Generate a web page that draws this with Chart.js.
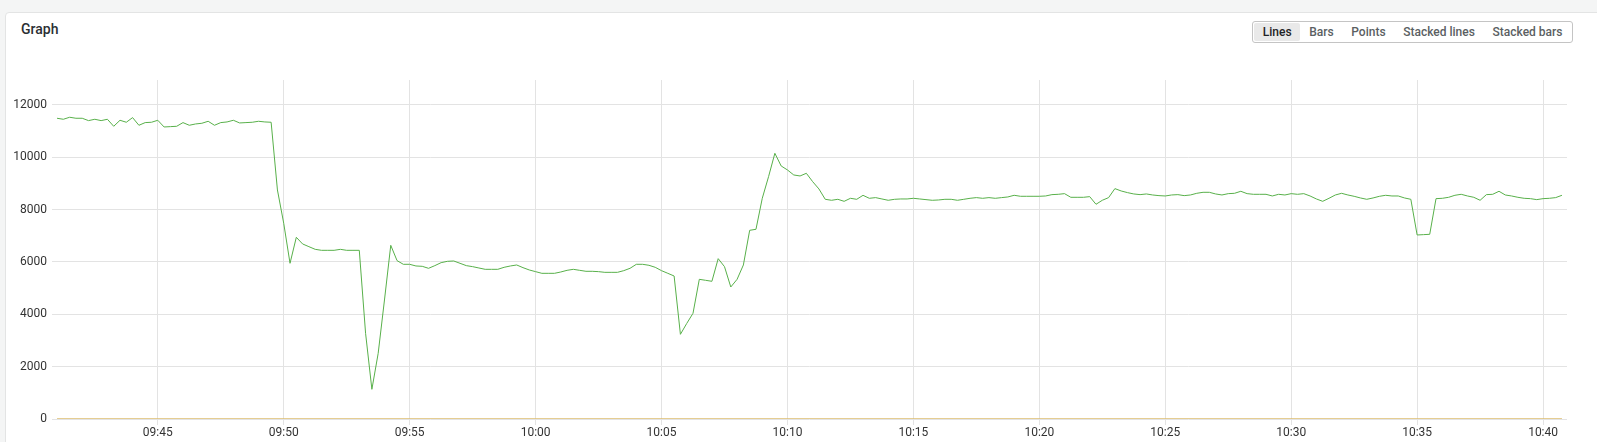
<!DOCTYPE html>
<html>
<head>
<meta charset="utf-8">
<title>Graph</title>
<script src="https://cdn.jsdelivr.net/npm/chart.js@4.4.1/dist/chart.umd.min.js"></script>
<style>
    html, body {
        margin: 0;
        padding: 0;
        width: 1597px;
        height: 442px;
        overflow: hidden;
        background: #f4f5f5;
        font-family: Roboto, "Noto Sans", sans-serif;
    }
    .card {
        position: absolute;
        left: 5px;
        top: 12px;
        width: 1610px;
        height: 460px;
        background: #fff;
        border: 1px solid #e3e4e4;
        border-radius: 4px;
        box-sizing: border-box;
    }
    .title {
        position: absolute;
        left: 21px;
        top: 22px;
        font-size: 14px;
        line-height: 14px;
        font-weight: 500;
        color: #2b2f33;
    }
    .modes {
        position: absolute;
        left: 1252px;
        top: 21px;
        height: 22px;
        box-sizing: border-box;
        border: 1px solid #c4c4c4;
        border-radius: 3px;
        padding: 1px;
        display: flex;
    }
    .modes span {
        display: block;
        height: 18px;
        line-height: 18px;
        padding: 0 8.8px;
        font-size: 12px;
        font-weight: 500;
        color: #5b5f63;
        border-radius: 2px;
    }
    .modes span.active {
        background: #e9e9e9;
        color: #1f2326;
    }
    #wrap {
        position: absolute;
        left: 0;
        top: 0;
        width: 1597px;
        height: 442px;
    }
</style>
</head>
<body>
<div class="card"></div>
<div class="title">Graph</div>
<div class="modes">
    <span class="active">Lines</span>
    <span>Bars</span>
    <span>Points</span>
    <span>Stacked lines</span>
    <span>Stacked bars</span>
</div>
<div id="wrap"><canvas id="graph"></canvas></div>

<script>
// samples every 15 s, starting 09:41:00
const startTime = '09:41:00';
const stepSeconds = 15;

const mainSeries = [
    11493, 11454, 11531, 11493, 11493, 11403, 11454, 11403, 11454, 11186,
    11416, 11340, 11518, 11225, 11327, 11340, 11416, 11160, 11173, 11186,
    11327, 11225, 11275, 11301, 11378, 11225, 11327, 11352, 11416, 11314,
    11327, 11340, 11378, 11352, 11340,
    8752, 7478, 5950, 6944, 6689, 6586, 6484, 6446, 6446, 6446,
    6484, 6446, 6446, 6446, 3274, 1134, 2510, 4548, 6638, 6052,
    5912, 5912, 5848, 5835, 5758, 5861, 5975, 6026,
    6039, 5950, 5861, 5822, 5771, 5720, 5720, 5720, 5797, 5848,
    5886, 5784, 5695, 5631, 5567, 5567, 5567, 5618, 5682, 5720,
    5682, 5644, 5644, 5631, 5605, 5605, 5605, 5669, 5759, 5912,
    5912, 5874, 5797, 5669, 5567, 5465, 3236,
    3650, 4039, 5338, 5300, 5262, 6128, 5822, 5045, 5338, 5886,
    7211, 7249, 8434, 9262, 10154, 9670, 9517, 9326, 9287, 9390,
    9071, 8791, 8396, 8358, 8396, 8319, 8434, 8396, 8548, 8434,
    8460, 8409, 8358, 8396,
    8409, 8409, 8434, 8409, 8383, 8358, 8370, 8396, 8396, 8358,
    8396, 8434, 8460, 8434, 8460, 8434, 8460, 8485, 8549, 8511,
    8511, 8511, 8511, 8523, 8574, 8587, 8612, 8472, 8472, 8472,
    8498, 8205, 8358, 8460, 8804,
    8714, 8651, 8600, 8574, 8600, 8561, 8536, 8523, 8561, 8574,
    8536, 8561, 8625, 8663, 8663, 8600, 8561, 8612, 8625, 8702,
    8612, 8587, 8587, 8587, 8523, 8587, 8561, 8612, 8587, 8612,
    8523, 8409, 8319, 8434,
    8560, 8625, 8561, 8510, 8447, 8396, 8447, 8510, 8549, 8523,
    8523, 8447, 8396, 7032, 7045, 7058, 8421, 8434, 8472, 8549,
    8587, 8523, 8472, 8358, 8574, 8587, 8702, 8561, 8523, 8472,
    8434, 8421, 8383, 8421, 8434, 8460, 8549
];

const zeroSeries = [
    0, 0, 0, 0, 0, 0, 0, 0, 0, 0, 0, 0, 0, 0, 0, 0, 0, 0, 0, 0,
    0, 0, 0, 0, 0, 0, 0, 0, 0, 0, 0, 0, 0, 0, 0, 0, 0, 0, 0, 0,
    0, 0, 0, 0, 0, 0, 0, 0, 0, 0, 0, 0, 0, 0, 0, 0, 0, 0, 0, 0,
    0, 0, 0, 0, 0, 0, 0, 0, 0, 0, 0, 0, 0, 0, 0, 0, 0, 0, 0, 0,
    0, 0, 0, 0, 0, 0, 0, 0, 0, 0, 0, 0, 0, 0, 0, 0, 0, 0, 0, 0,
    0, 0, 0, 0, 0, 0, 0, 0, 0, 0, 0, 0, 0, 0, 0, 0, 0, 0, 0, 0,
    0, 0, 0, 0, 0, 0, 0, 0, 0, 0, 0, 0, 0, 0, 0, 0, 0, 0, 0, 0,
    0, 0, 0, 0, 0, 0, 0, 0, 0, 0, 0, 0, 0, 0, 0, 0, 0, 0, 0, 0,
    0, 0, 0, 0, 0, 0, 0, 0, 0, 0, 0, 0, 0, 0, 0, 0, 0, 0, 0, 0,
    0, 0, 0, 0, 0, 0, 0, 0, 0, 0, 0, 0, 0, 0, 0, 0, 0, 0, 0, 0,
    0, 0, 0, 0, 0, 0, 0, 0, 0, 0, 0, 0, 0, 0, 0, 0, 0, 0, 0, 0,
    0, 0, 0, 0, 0, 0, 0, 0, 0, 0, 0, 0, 0, 0, 0, 0, 0, 0, 0, 0
];

const xTickLabels = ['09:45', '09:50', '09:55', '10:00', '10:05', '10:10',
                     '10:15', '10:20', '10:25', '10:30', '10:35', '10:40'];
const yTickValues = [0, 2000, 4000, 6000, 8000, 10000, 12000];

// helpers: clock text <-> minutes since midnight
function toMinutes(txt) {
    const p = txt.split(':').map(Number);
    return p[0] * 60 + p[1] + (p[2] || 0) / 60;
}
function toClock(min) {
    const h = Math.floor(min / 60);
    const m = Math.round(min - h * 60);
    return String(h).padStart(2, '0') + ':' + String(m).padStart(2, '0');
}

window.onload = function() {
    renderGraph();
};

function renderGraph() {
    const t0 = toMinutes(startTime);
    const step = stepSeconds / 60;
    const toPoints = (arr) => arr.map((v, i) => ({ x: t0 + i * step, y: v }));

    const first = t0;
    const last = t0 + (mainSeries.length - 1) * step;
    const edge = 0.2; // a little air on both sides of the plot

    const ctx = document.getElementById('graph').getContext('2d');
    new Chart(ctx, {
        type: 'line',
        data: {
            datasets: [{
                data: toPoints(zeroSeries),
                borderColor: '#dcbd6e',
                borderWidth: 1.5,
                pointRadius: 0,
                tension: 0,
                fill: false
            }, {
                data: toPoints(mainSeries),
                borderColor: '#58b04a',
                borderWidth: 1,
                pointRadius: 0,
                tension: 0,
                fill: false
            }]
        },
        options: {
            responsive: true,
            maintainAspectRatio: false,
            animation: false,
            events: [],
            layout: {
                padding: { left: 0, right: 30, top: 80, bottom: 0 }
            },
            plugins: {
                legend: { display: false },
                tooltip: { enabled: false }
            },
            scales: {
                x: {
                    type: 'linear',
                    min: first - edge,
                    max: last + edge,
                    border: { display: false },
                    grid: {
                        color: '#e3e3e3',
                        lineWidth: 1,
                        drawTicks: true,
                        tickLength: 6,
                        tickColor: '#e3e3e3'
                    },
                    afterBuildTicks: (scale) => {
                        scale.ticks = xTickLabels.map(l => ({ value: toMinutes(l) }));
                    },
                    afterFit: (scale) => { scale.height = 23; },
                    ticks: {
                        autoSkip: false,
                        maxRotation: 0,
                        padding: 1,
                        color: '#333',
                        font: { family: 'Roboto', size: 12 },
                        callback: (v) => toClock(v)
                    }
                },
                y: {
                    min: 0,
                    max: 12955,
                    border: { display: false },
                    grid: {
                        color: '#e3e3e3',
                        lineWidth: 1,
                        drawTicks: false
                    },
                    afterBuildTicks: (scale) => {
                        scale.ticks = yTickValues.map(v => ({ value: v }));
                    },
                    afterFit: (scale) => { scale.width = 52; },
                    ticks: {
                        padding: 5,
                        color: '#333',
                        font: { family: 'Roboto', size: 12 },
                        callback: (v) => String(v)
                    }
                }
            }
        }
    });
}
</script>
</body>
</html>
